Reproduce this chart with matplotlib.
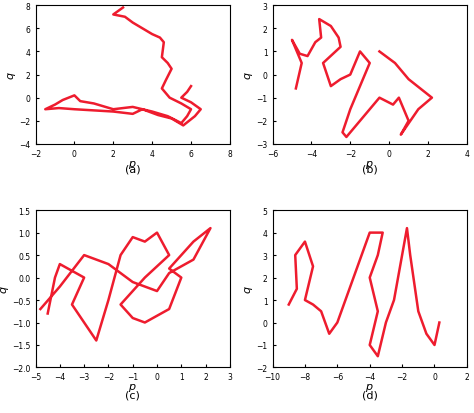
import matplotlib.pyplot as plt

# waypoints
a_p = [2.5, 2.0, 2.6, 3.0, 3.5, 4.0, 4.4, 4.6, 4.5, 4.8, 5.0, 4.7, 4.5, 4.9, 5.5, 6.0, 5.8, 5.5, 4.8, 4.0, 3.0, 2.0, 1.0, 0.3, 0.0, -0.6, -1.0, -1.5, -0.8, 0.0, 1.0, 2.0, 3.0, 3.5, 4.3, 5.0, 5.6, 6.2, 6.5, 6.0, 5.5, 5.8, 6.0]
a_q = [7.8, 7.2, 7.0, 6.5, 6.0, 5.5, 5.2, 4.8, 3.5, 3.0, 2.5, 1.5, 0.8, 0.0, -0.5, -1.0, -1.6, -2.2, -1.6, -1.2, -0.8, -1.0, -0.5, -0.3, 0.2, -0.2, -0.6, -1.0, -0.9, -1.0, -1.1, -1.2, -1.4, -1.0, -1.5, -1.8, -2.4, -1.6, -1.0, -0.4, 0.0, 0.5, 1.0]
b_p = [-4.8, -4.5, -5.0, -4.6, -4.2, -3.8, -3.5, -3.6, -3.0, -2.6, -2.5, -3.4, -3.0, -2.5, -2.0, -1.5, -1.0, -1.5, -2.0, -2.4, -2.2, -1.5, -0.5, 0.2, 0.5, 1.0, 0.6, 1.5, 2.2, 1.6, 1.0, 0.3, -0.5]
b_q = [-0.6, 0.5, 1.5, 0.9, 0.8, 1.4, 1.6, 2.4, 2.1, 1.6, 1.2, 0.5, -0.5, -0.2, 0.0, 1.0, 0.5, -0.5, -1.5, -2.5, -2.7, -2.0, -1.0, -1.3, -1.0, -2.0, -2.6, -1.5, -1.0, -0.6, -0.2, 0.5, 1.0]
c_p = [-4.5, -4.2, -4.0, -3.0, -3.5, -3.0, -2.5, -2.0, -1.5, -1.0, -0.5, 0.0, 0.5, -0.5, -1.5, -1.0, -0.5, 0.5, 1.0, 0.5, 1.5, 2.2, 1.5, 0.5, 0.0, -1.0, -2.0, -3.0, -4.0, -4.8]
c_q = [-0.8, 0.0, 0.3, 0.0, -0.6, -1.0, -1.4, -0.5, 0.5, 0.9, 0.8, 1.0, 0.5, 0.0, -0.6, -0.9, -1.0, -0.7, 0.0, 0.2, 0.8, 1.1, 0.4, 0.1, -0.3, -0.1, 0.3, 0.5, -0.2, -0.7]
d_p = [-9.0, -8.5, -8.6, -8.0, -7.5, -8.0, -7.5, -7.0, -6.5, -6.0, -5.5, -5.0, -4.5, -4.0, -3.2, -3.5, -4.0, -3.5, -4.0, -3.5, -3.0, -2.5, -2.0, -1.7, -1.5, -1.0, -0.5, 0.0, 0.3]
d_q = [0.8, 1.5, 3.0, 3.6, 2.5, 1.0, 0.8, 0.5, -0.5, 0.0, 1.0, 2.0, 3.0, 4.0, 4.0, 3.0, 2.0, 0.5, -1.0, -1.5, 0.0, 1.0, 3.0, 4.2, 3.0, 0.5, -0.5, -1.0, 0.0]

panels = [
    (a_p, a_q, (-2, 8), (-4, 8), range(-2, 9, 2), range(-4, 9, 2), '(a)'),
    (b_p, b_q, (-6, 4), (-3, 3), range(-6, 5, 2), range(-3, 4), '(b)'),
    (c_p, c_q, (-5, 3), (-2, 1.5), range(-5, 4), [-2, -1.5, -1, -0.5, 0, 0.5, 1, 1.5], '(c)'),
    (d_p, d_q, (-10, 2), (-2, 5), range(-10, 3, 2), range(-2, 6), '(d)'),
]

fig = plt.figure(figsize=(4.74, 4.14), dpi=100)
boxes = [[0.075, 0.65, 0.41, 0.335], [0.575, 0.65, 0.41, 0.335],
         [0.075, 0.11, 0.41, 0.38], [0.575, 0.11, 0.41, 0.38]]
for box, (p, q, xl, yl, xt, yt, cap) in zip(boxes, panels):
    ax = fig.add_axes(box)
    ax.plot(p, q, color='#ee1c2e', lw=1.8, solid_joinstyle='round')
    ax.set_xlim(*xl)
    ax.set_ylim(*yl)
    ax.set_xticks(list(xt))
    ax.set_yticks(list(yt))
    ax.tick_params(labelsize=5.5, length=2, direction='in')
    ax.set_xlabel('$p$', fontsize=8, labelpad=0)
    ax.set_ylabel('$q$', fontsize=8, labelpad=1)
    ax.text(0.5, -0.14, cap, transform=ax.transAxes, ha='center', va='top', fontsize=8)

fig.savefig('out.png')
